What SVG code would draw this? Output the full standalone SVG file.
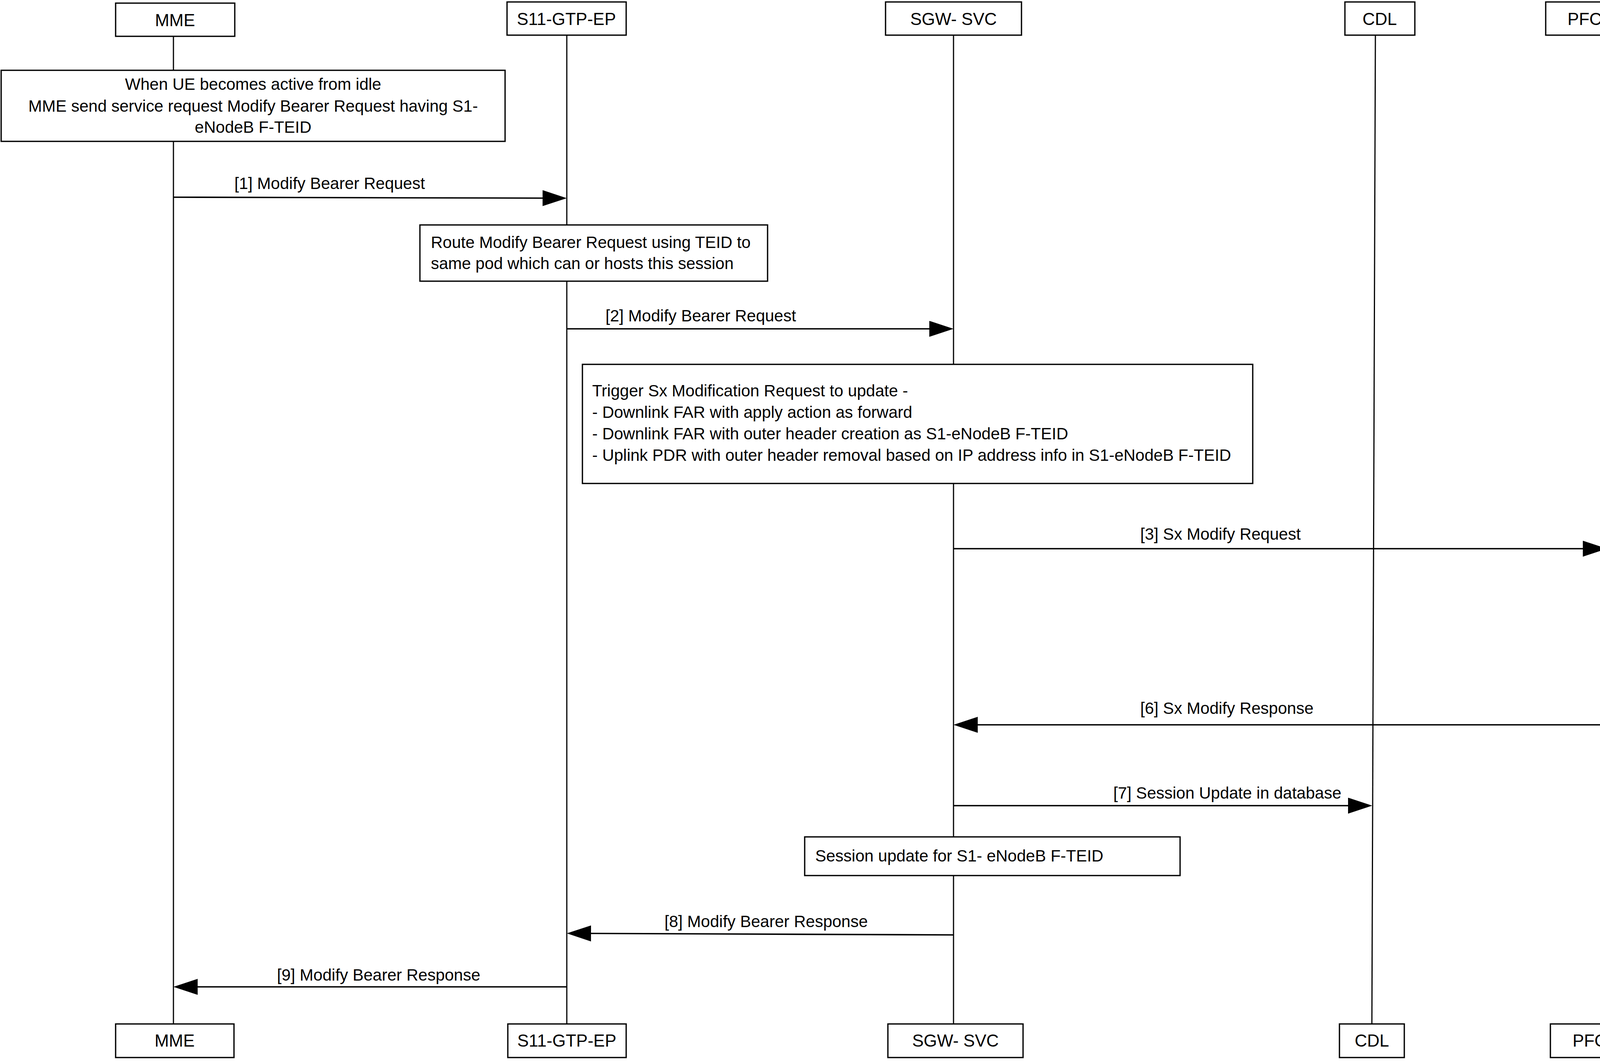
<svg xmlns="http://www.w3.org/2000/svg" width="5000" height="2722" viewBox="0 0 5000 2722">
<style>
.box{fill:#fff;stroke:#000;stroke-width:3.3}
.life{stroke:#000;stroke-width:3;fill:none}
.msg{stroke:#000;stroke-width:3.6;fill:none;marker-end:url(#ah)}
text{font-family:"Liberation Sans",Arial,sans-serif;fill:#000}
.hd{font-size:44px;text-anchor:middle}
.lb{font-size:42px}
.nc{font-size:42px;text-anchor:middle}
.fig{font-size:35px}
</style>
<defs>
<marker id="ah" markerUnits="userSpaceOnUse" markerWidth="64" markerHeight="42" refX="56" refY="20.5" orient="auto" viewBox="0 0 64 42">
<path d="M0,0 L62,20.5 L0,41 Z" fill="#000"/>
</marker>
</defs>
<rect width="5000" height="2722" fill="#fff"/>
<g id="lifelines">
<line class="life" x1="444" y1="93" x2="444" y2="2622"/>
<line class="life" x1="1451" y1="90" x2="1451" y2="2622"/>
<line class="life" x1="2441" y1="90" x2="2441" y2="2622"/>
<line class="life" x1="3521" y1="90" x2="3512" y2="2622"/>
<line class="life" x1="4114" y1="90" x2="4114" y2="2622"/>
<line class="life" x1="4912" y1="90" x2="4912" y2="2622"/>
</g>
<g id="node-MME-top"><rect class="box" x="296" y="8" width="305" height="85"/><text class="hd" x="448" y="67">MME</text></g>
<g id="node-S11-top"><rect class="box" x="1298" y="5" width="305" height="85"/><text class="hd" x="1450" y="64">S11-GTP-EP</text></g>
<g id="node-SGW-top"><rect class="box" x="2267" y="5" width="348" height="85"/><text class="hd" x="2441" y="64">SGW- SVC</text></g>
<g id="node-CDL-top"><rect class="box" x="3443" y="5" width="179" height="85"/><text class="hd" x="3532" y="64">CDL</text></g>
<g id="node-PFCP-top"><rect class="box" x="3957" y="5" width="303" height="85"/><text class="hd" x="4108" y="64">PFCP-EP</text></g>
<g id="node-UP-top"><rect class="box" x="4819" y="5" width="178" height="85"/><text class="hd" x="4908" y="64">UP</text></g>

<g id="note-1"><rect class="box" x="3" y="180" width="1290" height="182"/>
<text class="nc" x="648" y="230">When UE becomes active from idle</text>
<text class="nc" x="648" y="286">MME send service request Modify Bearer Request having S1-</text>
<text class="nc" x="648" y="340">eNodeB F-TEID</text></g>
<g id="note-2"><rect class="box" x="1075" y="576" width="890" height="144"/>
<text class="lb" x="1103" y="635">Route Modify Bearer Request using TEID to</text>
<text class="lb" x="1103" y="689">same pod which can or hosts this session</text></g>
<g id="note-3"><rect class="box" x="1491" y="933" width="1716" height="305"/>
<text class="lb" x="1516" y="1015">Trigger Sx Modification Request to update -</text>
<text class="lb" x="1516" y="1070">- Downlink FAR with apply action as forward</text>
<text class="lb" x="1516" y="1125">- Downlink FAR with outer header creation as S1-eNodeB F-TEID</text>
<text class="lb" x="1516" y="1180">- Uplink PDR with outer header removal based on IP address info in S1-eNodeB F-TEID</text></g>
<g id="note-4"><rect class="box" x="2060" y="2143" width="961" height="99"/>
<text class="lb" x="2087" y="2206">Session update for S1- eNodeB F-TEID</text></g>

<g id="connectors">
<line class="msg" x1="444" y1="505" x2="1445" y2="507.5"/>
<text class="lb" x="600" y="484">[1] Modify Bearer Request</text>
<line class="msg" x1="1451" y1="842" x2="2435" y2="842"/>
<text class="lb" x="1550" y="823">[2] Modify Bearer Request</text>
<line class="msg" x1="2441" y1="1405" x2="4108" y2="1405"/>
<text class="lb" x="2919" y="1382">[3] Sx Modify Request</text>
<line class="msg" x1="4114" y1="1552" x2="4906" y2="1552"/>
<text class="lb" x="4318" y="1530">[4] Sx Modify Request</text>
<line class="msg" x1="4912" y1="1703" x2="4120" y2="1703"/>
<text class="lb" x="4313" y="1675">[5] Sx Modify Response</text>
<line class="msg" x1="4114" y1="1856" x2="2447" y2="1856"/>
<text class="lb" x="2919" y="1828">[6] Sx Modify Response</text>
<line class="msg" x1="2441" y1="2063" x2="3507" y2="2063"/>
<text class="lb" x="2850" y="2045">[7] Session Update in database</text>
<line class="msg" x1="2441" y1="2394" x2="1457" y2="2390"/>
<text class="lb" x="1701" y="2374">[8] Modify Bearer Response</text>
<line class="msg" x1="1451" y1="2527" x2="450" y2="2527"/>
<text class="lb" x="709" y="2511">[9] Modify Bearer Response</text>
</g>

<g id="node-MME-bottom"><rect class="box" x="296" y="2622" width="303" height="86"/><text class="hd" x="447" y="2680">MME</text></g>
<g id="node-S11-bottom"><rect class="box" x="1300" y="2622" width="303" height="86"/><text class="hd" x="1451" y="2680">S11-GTP-EP</text></g>
<g id="node-SGW-bottom"><rect class="box" x="2273" y="2622" width="346" height="86"/><text class="hd" x="2446" y="2680">SGW- SVC</text></g>
<g id="node-CDL-bottom"><rect class="box" x="3429" y="2622" width="166" height="86"/><text class="hd" x="3512" y="2680">CDL</text></g>
<g id="node-PFCP-bottom"><rect class="box" x="3969" y="2622" width="305" height="86"/><text class="hd" x="4121" y="2680">PFCP-EP</text></g>
<g id="node-UP-bottom"><rect class="box" x="4823" y="2622" width="170" height="86"/><text class="hd" x="4908" y="2680">UP</text></g>

<text class="fig" transform="translate(4937,2430) rotate(90)">448183</text>
</svg>
